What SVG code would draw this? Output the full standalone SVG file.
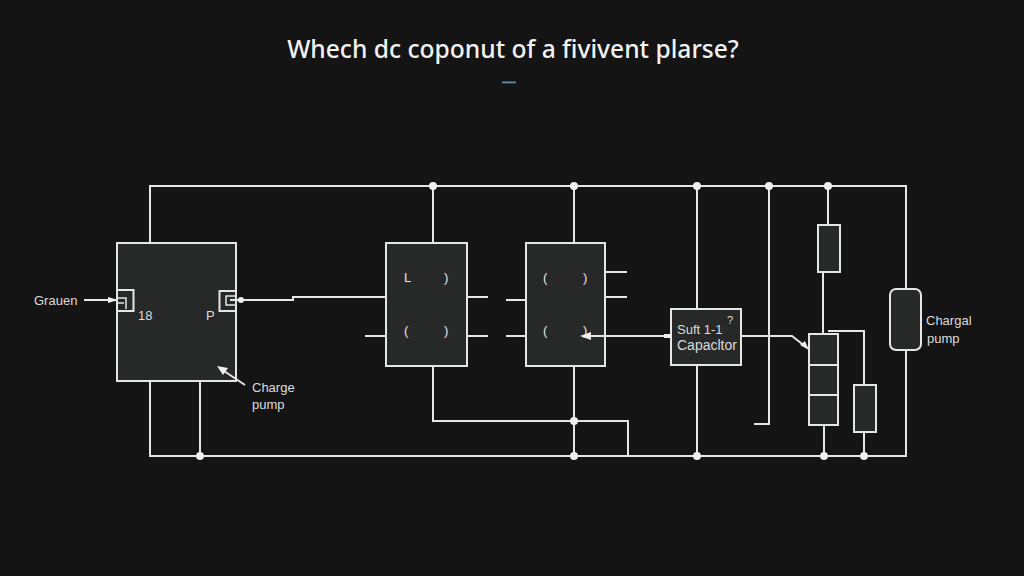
<svg xmlns="http://www.w3.org/2000/svg" width="1024" height="576" viewBox="0 0 1024 576">
<style>
text{font-family:"Liberation Sans",Arial,sans-serif;fill:#dcdcdc;font-size:13px}
.title{font-family:"Noto Sans","Open Sans",sans-serif;font-size:24.600px;font-weight:500;fill:#f2f2f2}
.g{font-size:13px;fill:#e6e6e6}
.sm{font-size:14px}
.box{fill:#272828;stroke:#e6e6e6;stroke-width:2}
.thin{fill:none;stroke:#e6e6e6;stroke-width:1.500}
.w{fill:none;stroke:#e6e6e6;stroke-width:2}
.d{fill:#efefef}
.a{fill:#efefef}
</style>
<rect width="1024" height="576" fill="#141414"/>
<g id="title">
<text class="title" x="513" y="58" text-anchor="middle">Whech dc coponut of a fivivent plarse?</text>
<rect x="502" y="81.500" width="14" height="1.800" fill="#5f8ea6"/>
</g>
<g id="label-grauen"><text x="34" y="305">Grauen</text></g>
<g id="charge-pump-block">
<rect class="box" x="117" y="243" width="119" height="138"/>
<path class="w" d="M117 290H133.500V311H117"/>
<path class="thin" d="M117 298H126V309M117 303H124"/>
<path class="w" d="M236 291H219.500V311H236"/>
<path class="thin" d="M236 296H226V305H236"/>
<text x="138" y="320">18</text>
<text x="206" y="320">P</text>
</g>
<g id="label-charge-pump"><text x="252" y="392">Charge</text><text x="252" y="409">pump</text></g>
<g id="block-2">
<rect class="box" x="386" y="243" width="81" height="123"/>
<text class="g" x="404" y="282">L</text><text class="g" x="444" y="282">)</text>
<text class="g" x="404" y="335">(</text><text class="g" x="444" y="335">)</text>
</g>
<g id="block-3">
<rect class="box" x="526" y="243" width="79" height="123"/>
<text class="g" x="543" y="282">(</text><text class="g" x="583" y="282">)</text>
<text class="g" x="543" y="335">(</text><text class="g" x="583" y="335">)</text>
</g>
<g id="capacitor">
<rect class="box" x="671" y="309" width="70" height="56"/>
<text x="677" y="334">Suft 1-1</text>
<text x="727" y="324" style="font-size:11px">?</text>
<text class="sm" x="677" y="350">Capacltor</text>
</g>
<g id="resistor-top"><rect class="box" x="818" y="225" width="22" height="47"/></g>
<g id="stack">
<rect class="box" x="809" y="334" width="29" height="91"/>
<path class="w" d="M809 365H838M809 395H838"/>
</g>
<g id="resistor-low"><rect class="box" x="854" y="385" width="22" height="47"/></g>
<g id="charge-cell"><rect class="box" x="890" y="289" width="31" height="61" rx="6"/></g>
<g id="label-chargal"><text x="926" y="325">Chargal</text><text x="927" y="343">pump</text></g>
<g id="connectors">
<path class="w" d="M150 243V186H906V289M906 350V456H150V381M200 381V456"/>
<path class="w" d="M433 186V243M574 186V243M697 186V309M697 365V456M769 186V424H754M828 186V225"/>
<path class="w" d="M433 366V421H628V456M574 366V456"/>
<path class="w" d="M230 300H293V297H386M365 336H386M467 297H488M467 336H488M506 300H526M506 336H526M605 272H627M605 297H627"/>
<path class="w" d="M671 336H586"/>
<path class="w" d="M741 336H792L806 347"/>
<path class="w" d="M823 272V334M828 331H864V385M824 425V456M864 432V456"/>
<path class="w" d="M84 300H116"/>
<path class="w" d="M245 385L224 371"/>
<polygon class="a" points="580,336 591,332 591,340"/>
<polygon class="a" points="809,350 800,345 805,341"/>
<polygon class="a" points="217,366 228,368 223,375"/>
<polygon class="a" points="118,300 108,297 108,303"/>
<circle class="d" cx="241" cy="300" r="3"/>
<rect class="a" x="664" y="334" width="8" height="4"/>
<g class="d">
<circle cx="433" cy="186" r="4"/><circle cx="574" cy="186" r="4"/><circle cx="697" cy="186" r="4"/><circle cx="769" cy="186" r="4"/><circle cx="828" cy="186" r="4"/>
<circle cx="200" cy="456" r="4"/><circle cx="574" cy="421" r="4"/><circle cx="574" cy="456" r="4"/><circle cx="697" cy="456" r="4"/><circle cx="824" cy="456" r="4"/><circle cx="864" cy="456" r="4"/>
</g>
</g>
</svg>
